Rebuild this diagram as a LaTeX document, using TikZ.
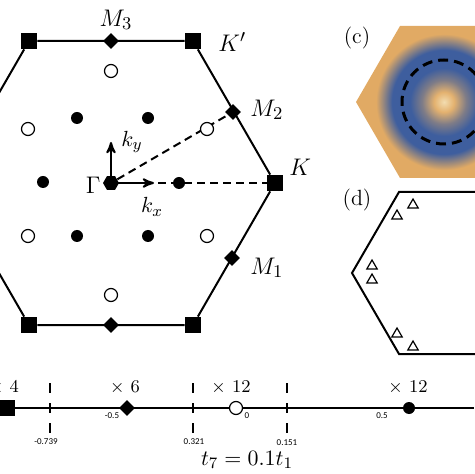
\documentclass[tikz,border=0pt]{standalone}
\usepackage{amsmath}
\usepackage{fontspec}
\newfontfamily\tickfont{Carlito}
\usetikzlibrary{positioning, arrows, shapes.geometric}
\definecolor{bzorange}{HTML}{E1AA64}
\definecolor{bzlight}{HTML}{F2DCB0}
\definecolor{bzblue}{HTML}{3E5E9E}
\pgfdeclareradialshading{bzone}{\pgfpoint{0bp}{0bp}}{%
  color(0bp)=(bzlight); color(2.5bp)=(bzorange!85!bzlight);
  color(5.5bp)=(bzblue!60!bzorange); color(8.5bp)=(bzblue);
  color(13bp)=(bzblue); color(17bp)=(bzorange); color(50bp)=(bzorange)}
\tikzset{
  >=stealth',
  bz/.style={line width=1pt},
  hs/.style={rectangle, fill=black, minimum size=8pt, inner sep=0pt},
  md/.style={diamond, fill=black, minimum size=8pt, inner sep=0pt},
  gm/.style={regular polygon, regular polygon sides=6, fill=black, minimum size=8pt, inner sep=0pt},
  fdot/.style={circle, fill=black, minimum size=6pt, inner sep=0pt},
  odot/.style={circle, draw, fill=white, line width=0.6pt, minimum size=6.5pt, inner sep=0pt},
  tri/.style={regular polygon, regular polygon sides=3, draw, line width=0.6pt, minimum size=6pt, inner sep=0pt},
  lbl/.style={font=\fontsize{13}{15}\selectfont, inner sep=0pt},
  klbl/.style={font=\fontsize{11}{13}\selectfont, inner sep=0pt},
  plbl/.style={font=\fontsize{11}{13}\selectfont, inner sep=0pt},
  mlbl/.style={font=\fontsize{9}{11}\selectfont, inner sep=0pt},
  tlbl/.style={font=\tickfont\fontsize{4.5}{5}\selectfont, inner sep=0pt},
  tick/.style={line width=1pt, dash pattern=on 5pt off 5pt},
  path/.style={line width=1pt, dash pattern=on 4pt off 2.5pt},
  ring/.style={line width=1.5pt, dash pattern=on 5pt off 3pt},
}

\begin{document}
\begin{tikzpicture}[x=0.5pt, y=-0.5pt]
  \useasboundingbox (0,0) rectangle (474,474);

  % (c) gap map
  \begin{scope}
    \clip (532,102) -- (488,26) -- (400,26) -- (356,102) -- (400,178) -- (488,178) -- cycle;
    \shade[shading=bzone] (444,102) circle[radius=100];
  \end{scope}
  \draw[ring] (444,102) circle[radius=42];
  \node[plbl] (lc) at (357,38) {(c)};

  % (d) zone edge
  \draw[bz] (540,273) -- (493,192) -- (399,192) -- (352,273) -- (399,354) -- (493,354) -- cycle;
  \node[plbl] (ld) at (357,200) {(d)};
  \node[tri] (d1) at (413,205) {};
  \node[tri] (d2) at (397,216) {};
  \node[tri] (d3) at (372,266) {};
  \node[tri] (d4) at (372,280) {};
  \node[tri] (d5) at (397,334) {};
  \node[tri] (d6) at (413,347) {};

  % zone corners
  \node[hs] (k) at (275,183) {};
  \node[hs] (kp) at (193,41) {};
  \node[hs] (c3) at (29,41) {};
  \coordinate (c4) at (-53,183);
  \node[hs] (c5) at (29,325) {};
  \node[hs] (c6) at (193,325) {};
  \draw[bz] (k) -- (kp) -- (c3) -- (c4) -- (c5) -- (c6) -- (k);

  % edge centres
  \node[md] (m3) at (111,41) {};
  \node[md] (m2) at (233,112) {};
  \node[md] (m1) at (232,258) {};
  \node[md] (m0) at (111,325) {};

  % centre and paths
  \node[gm] (g) at (111,183) {};
  \draw[path] (g) -- (k);
  \draw[path] (g) -- (m2);
  \coordinate (kx) at (154,183);
  \coordinate (ky) at (111,142);
  \draw[bz, ->] (g.center) -- (kx);
  \draw[bz, ->] (g.center) -- (ky);

  % inner points
  \node[fdot] (f1) at (77,118) {};
  \node[fdot] (f2) at (148,118) {};
  \node[fdot] (f3) at (43,182) {};
  \node[fdot] (f4) at (179,183) {};
  \node[fdot] (f5) at (77,236) {};
  \node[fdot] (f6) at (148,236) {};
  \node[odot] (o1) at (111,71) {};
  \node[odot] (o2) at (28,129) {};
  \node[odot] (o3) at (207,129) {};
  \node[odot] (o4) at (28,236) {};
  \node[odot] (o5) at (207,236) {};
  \node[odot] (o6) at (111,295) {};

  % labels
  \node[lbl] at (116,20) {$M_3$};
  \node[lbl, anchor=west] at (218,42) {$K'$};
  \node[lbl, anchor=west] at (250,110) {$M_2$};
  \node[lbl, anchor=west] at (289,167) {$K$};
  \node[lbl, anchor=west] at (250,268) {$M_1$};
  \node[lbl, anchor=east] at (101,185) {$\Gamma$};
  \node[klbl] at (132,142) {$k_y$};
  \node[klbl] at (152,207) {$k_x$};

  % number line
  \coordinate (l0) at (0,408);
  \coordinate (l1) at (474,408);
  \draw[bz] (l0) -- (l1);
  \draw[tick] (50,383) -- (50,433);
  \draw[tick] (193,383) -- (193,433);
  \draw[tick] (287,383) -- (287,433);
  \node[hs] (n4) at (7,408) {};
  \node[md] (n6) at (127,408) {};
  \node[odot] (n12) at (236,408) {};
  \node[fdot] (n12b) at (409,408) {};
  \node[mlbl] at (4,387) {$\times$ 4};
  \node[mlbl] at (125,387) {$\times$ 6};
  \node[mlbl] at (231,387) {$\times$ 12};
  \node[mlbl] at (408,387) {$\times$ 12};
  \node[tlbl] at (112,416) {-0.5};
  \node[tlbl] at (247,416) {0};
  \node[tlbl] at (382,416) {0.5};
  \node[tlbl] at (46,442) {-0.739};
  \node[tlbl] at (194,442) {0.321};
  \node[tlbl] at (287,443) {0.151};
  \node[klbl] at (247,460) {$t_7 = 0.1t_1$};
\end{tikzpicture}
\end{document}
